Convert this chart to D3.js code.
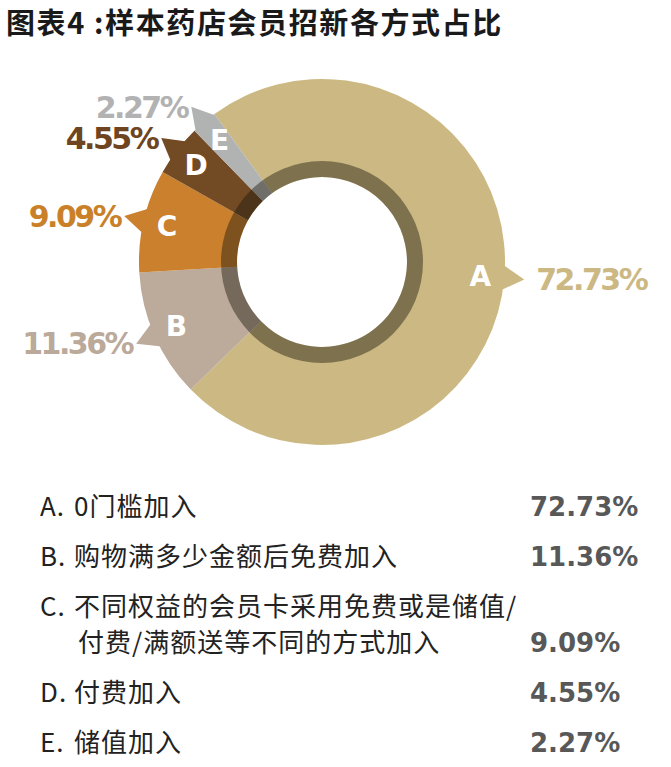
<!DOCTYPE html>
<html>
<head>
<meta charset="utf-8">
<script src="https://cdn.jsdelivr.net/npm/d3@7"></script>
<style>
  body { margin: 0; background: #fff; }
  svg { display: block; }
  .title { font-family: "Noto Sans CJK SC", sans-serif; font-weight: 700; font-size: 29px; fill: #1a1a1a; letter-spacing: 1.6px; }
  .slice-letter { font-family: "DejaVu Sans", Verdana, sans-serif; font-weight: 700; font-size: 28px; fill: #fff; }
  .pct-label { font-family: "DejaVu Sans", Verdana, sans-serif; font-weight: 700; font-size: 30px; letter-spacing: -2.5px; }
  .legend-text { font-family: "Noto Sans CJK SC", sans-serif; font-size: 26px; fill: #222; letter-spacing: 1px; }
  .legend-value { font-family: "DejaVu Sans", Verdana, sans-serif; font-weight: 700; font-size: 26px; fill: #585858; }
</style>
</head>
<body>
<div class="container"></div>
<script>
const width = 671;
const height = 767;

// data
const letters = ["A", "B", "C", "D", "E"];
const shares = [72.73, 11.36, 9.09, 4.55, 2.27];
const descriptions = [
  ["0门槛加入"],
  ["购物满多少金额后免费加入"],
  ["不同权益的会员卡采用免费或是储值/", "付费/满额送等不同的方式加入"],
  ["付费加入"],
  ["储值加入"]
];
const colors = ["#ccb882", "#bcaa9a", "#ca802c", "#724a24", "#b1b2b2"];
const labelColors = ["#ccb883", "#bba99a", "#c98029", "#6e4520", "#b2b2b2"];

const cx = 322, cy = 262;
const outerR = 183;
const innerR = 85;
const ringR = 101;

const svg = d3.select(".container")
  .append("svg")
    .attr("width", width)
    .attr("height", height);

svg.append("text")
  .classed("title", true)
  .attr("x", 6)
  .attr("y", 34)
  .text("图表4 :样本药店会员招新各方式占比");

const data = letters.map((l, i) => ({letter: l, value: shares[i], color: colors[i], labelColor: labelColors[i]}));

const startA = -36 * Math.PI / 180;
const pie = d3.pie()
  .sort(null)
  .value(d => d.value)
  .startAngle(startA)
  .endAngle(startA + 2 * Math.PI);

const arcs = pie(data);

const arc = d3.arc()
  .innerRadius(innerR)
  .outerRadius(outerR);

const ring = d3.arc()
  .innerRadius(innerR)
  .outerRadius(ringR)
  .startAngle(0)
  .endAngle(2 * Math.PI);

const g = svg.append("g")
  .attr("transform", "translate(" + cx + "," + cy + ")");

// position on the circle, angle measured clockwise from 12 o'clock
function polar(a, r) {
  return [Math.sin(a) * r, -Math.cos(a) * r];
}

// pointer tabs
const tabHalf = 13;
const tipR = outerR + 20;
g.selectAll(".tab")
  .data(arcs)
  .enter()
  .append("path")
  .classed("tab", true)
  .attr("fill", d => d.data.color)
  .attr("d", d => {
    const mid = (d.startAngle + d.endAngle) / 2;
    const da = tabHalf / outerR;
    const p1 = polar(mid - da, outerR - 2);
    const p2 = polar(mid, tipR);
    const p3 = polar(mid + da, outerR - 2);
    return "M" + p1 + "L" + p2 + "L" + p3 + "Z";
  });

g.selectAll(".slice")
  .data(arcs)
  .enter()
  .append("path")
  .classed("slice", true)
  .attr("fill", d => d.data.color)
  .attr("d", arc);

g.append("path")
  .attr("d", ring)
  .attr("fill", "#1e1a10")
  .attr("opacity", 0.45);

g.selectAll(".slice-letter")
  .data(arcs)
  .enter()
  .append("text")
  .classed("slice-letter", true)
  .attr("text-anchor", "middle")
  .attr("dy", "0.36em")
  .attr("x", d => polar((d.startAngle + d.endAngle) / 2, 159)[0])
  .attr("y", d => polar((d.startAngle + d.endAngle) / 2, 159)[1])
  .text(d => d.data.letter);

g.selectAll(".pct-label")
  .data(arcs)
  .enter()
  .append("text")
  .classed("pct-label", true)
  .attr("fill", d => d.data.labelColor)
  .attr("dy", "0.36em")
  .attr("text-anchor", d => polar((d.startAngle + d.endAngle) / 2, 1)[0] > 0 ? "start" : "end")
  .attr("x", d => {
    const p = polar((d.startAngle + d.endAngle) / 2, tipR);
    return p[0] > 0 ? p[0] + 12 : p[0] - 4;
  })
  .attr("y", d => polar((d.startAngle + d.endAngle) / 2, tipR)[1])
  .text(d => d3.format(".2f")(d.value) + "%");

// legend
const legend = svg.append("g");
const rowGap = 50;
const lineGap = 36;
let y = 516;

data.forEach((d, i) => {
  const lines = descriptions[i];
  legend.append("text")
    .classed("legend-text", true)
    .attr("x", 40)
    .attr("y", y)
    .text(d.letter + ".");

  lines.forEach((line, j) => {
    legend.append("text")
      .classed("legend-text", true)
      .attr("x", j === 0 ? 74 : 78)
      .attr("y", y + j * lineGap)
      .text(line);
  });

  const lastY = y + (lines.length - 1) * lineGap;
  legend.append("text")
    .classed("legend-value", true)
    .attr("x", 530)
    .attr("y", lastY)
    .text(d3.format(".2f")(d.value) + "%");

  y = lastY + rowGap;
});
</script>
</body>
</html>
